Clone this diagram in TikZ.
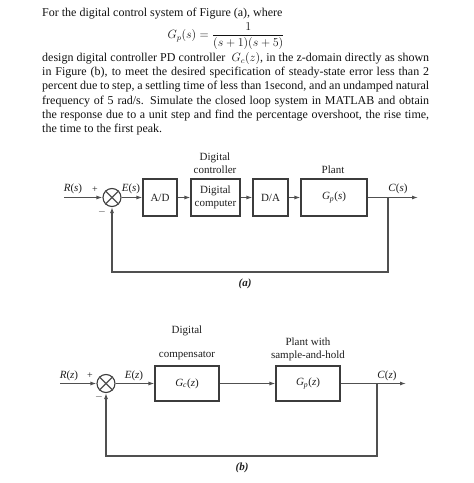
\documentclass[tikz,border=0pt]{standalone}
\usepackage{fontspec}
\setmainfont{Liberation Serif}
\usetikzlibrary{arrows.meta}
\definecolor{ln}{HTML}{505050}
\definecolor{bx}{HTML}{3C3C3C}
\definecolor{tx}{HTML}{1E1E1E}
\definecolor{ptx}{HTML}{111111}
\begin{document}
\begin{tikzpicture}[x=1pt,y=1pt,
  blk/.style={draw=bx, line width=1.1pt, inner sep=0pt, font=\fontsize{11}{12.5}\selectfont, text=tx, align=center},
  sumj/.style={draw=bx, line width=1.1pt, circle, minimum size=18pt, inner sep=0pt},
  lbl/.style={inner sep=0pt, font=\fontsize{11}{12.5}\selectfont, text=tx, align=center},
  sgn/.style={inner sep=0pt, font=\fontsize{10}{11}\selectfont, text=tx},
  sig/.style={draw=ln, line width=1.1pt},
  arr/.style={sig, -{Latex[length=6pt,width=4pt]}},
  ptxt/.style={inner sep=0pt, text=ptx, font=\fontsize{12}{14.3}\selectfont},
]
\useasboundingbox (0,0) rectangle (474,-483);

% ---------- problem text ----------
\node[ptxt, anchor=west] (l1) at (42,-14) {For the digital control system of Figure (a), where};
\node[ptxt] (eq) at (226,-36) {$\displaystyle G_p(s)=\frac{1}{(s+1)(s+5)}$};
\node[ptxt, anchor=north west, text width=387pt, align=justify] (par) at (42,-52)
{design digital controller PD controller \ $G_c(z)$, in the z-domain directly as shown\linebreak
in Figure (b), to meet the desired specification of steady-state error less than 2\linebreak
percent due to step, a settling time of less than 1second, and an undamped natural\linebreak
frequency of 5 rad/s. Simulate the closed loop system in MATLAB and obtain\linebreak
the response due to a unit step and find the percentage overshoot, the rise time,\linebreak
the time to the first peak.};

% ---------- diagram (a) ----------
\coordinate (r1) at (64,-197.5);
\node[sumj] (s1) at (112,-197.5) {};
\draw[sig] (s1.north west) -- (s1.south east) (s1.north east) -- (s1.south west);
\node[blk, minimum width=34pt, minimum height=37pt] (ad) at (160,-197.5) {A/D};
\node[blk, minimum width=49pt, minimum height=37pt] (dc) at (215.5,-197.5) {Digital\\computer};
\node[blk, minimum width=35pt, minimum height=37pt] (da) at (270.5,-197.5) {D/A};
\node[blk, minimum width=66pt, minimum height=37pt] (gp) at (334,-197.5) {\textit{G\textsubscript{p}}(\textit{s})};
\coordinate (b1) at (388,-197.5);
\coordinate (o1) at (418,-197.5);
\coordinate (f1) at (388,-272);

\draw[arr] (r1) -- (s1.west);
\draw[arr] (s1.east) -- (ad.west);
\draw[arr] (ad.east) -- (dc.west);
\draw[arr] (dc.east) -- (da.west);
\draw[arr] (da.east) -- (gp.west);
\draw[arr] (gp.east) -- (o1);
\draw[arr] (b1) -- (f1) -| (s1.south);

\node[lbl] (lr1) at (73,-189) {\textit{R}(\textit{s})};
\node[sgn] (p1) at (95,-190) {+};
\node[sgn] (m1) at (102,-212) {$-$};
\node[lbl] (le1) at (131,-189) {\textit{E}(\textit{s})};
\node[lbl] (lc1) at (398,-189) {\textit{C}(\textit{s})};
\node[lbl] (ldc) at (215,-163) {Digital\\controller};
\node[lbl] (lpl) at (333,-170) {Plant};
\node[lbl] (la) at (245,-284) {\textbf{\textit{(a)}}};

% ---------- diagram (b) ----------
\coordinate (r2) at (60,-383.5);
\node[sumj] (s2) at (106,-383.5) {};
\draw[sig] (s2.north west) -- (s2.south east) (s2.north east) -- (s2.south west);
\node[blk, minimum width=64pt, minimum height=35pt] (gc) at (187,-383.5) {\textit{G\textsubscript{c}}(\textit{z})};
\node[blk, minimum width=64pt, minimum height=35pt] (gpz) at (308,-383.5) {\textit{G\textsubscript{p}}(\textit{z})};
\coordinate (b2) at (377,-383.5);
\coordinate (o2) at (406,-383.5);
\coordinate (f2) at (377,-456);

\draw[arr] (r2) -- (s2.west);
\draw[arr] (s2.east) -- (gc.west);
\draw[arr] (gc.east) -- (gpz.west);
\draw[arr] (gpz.east) -- (o2);
\draw[arr] (b2) -- (f2) -| (s2.south);

\node[lbl] (lr2) at (69,-376) {\textit{R}(\textit{z})};
\node[sgn] (p2) at (90,-376) {+};
\node[sgn] (m2) at (99,-397) {$-$};
\node[lbl] (le2) at (134,-376) {\textit{E}(\textit{z})};
\node[lbl] (lc2) at (387,-376) {\textit{C}(\textit{z})};
\node[lbl] (ldg) at (187,-331) {Digital};
\node[lbl] (lcm) at (187,-356) {compensator};
\node[lbl] (lpw) at (308,-349.5) {Plant with\\sample-and-hold};
\node[lbl] (lb) at (242,-468) {\textbf{\textit{(b)}}};
\end{tikzpicture}
\end{document}
